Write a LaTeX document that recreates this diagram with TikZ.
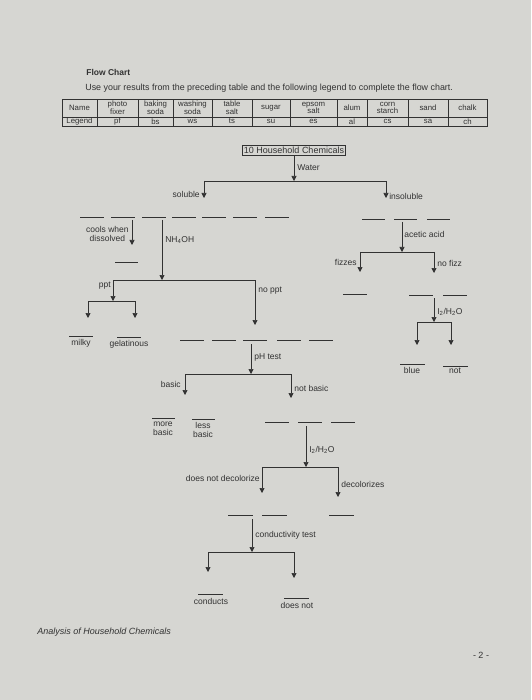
\documentclass[tikz,border=0pt]{standalone}
\usepackage{fontspec}
\setmainfont{Liberation Sans}
\usetikzlibrary{arrows.meta}
\definecolor{paper}{RGB}{214,214,210}
\definecolor{ink}{RGB}{50,50,50}

\begin{document}
\begin{tikzpicture}[x=1pt, y=-1pt, draw=ink, line width=0.7pt, every node/.style={text=ink, inner sep=1pt}]
    \tikzstyle{flow}=[-{Triangle[width=5pt,length=5pt]}]
    \tikzstyle{lbl}=[font=\fontsize{8.5}{9}\selectfont, align=center]
    \tikzstyle{cell}=[font=\fontsize{7.8}{7.8}\selectfont, align=center, inner sep=0pt]
    \tikzstyle{box}=[draw, line width=0.6pt, font=\fontsize{9}{10}\selectfont, inner sep=1.5pt]

    % Page
    \fill[paper] (0,0) rectangle (531,700);
    \useasboundingbox (0,0) rectangle (531,700);

    % Heading
    \node[anchor=west, font=\bfseries\fontsize{8.5}{10}\selectfont] (title) at (85,72) {Flow Chart};
    \node[anchor=west, font=\fontsize{8.9}{10}\selectfont] (intro) at (84,88) {Use your results from the preceding table and the following legend to complete the flow chart.};

    % Legend table
    \foreach \l/\r/\nm/\lg [count=\i] in {62/97/Name/Legend, 97/138/photo\\fixer/pf, 138/173/baking\\soda/bs, 173/212/washing\\soda/ws, 212/252/table\\salt/ts, 252/290/sugar/su, 290/337/epsom\\salt/es, 337/367/alum/al, 367/408/corn\\starch/cs, 408/448/sand/sa, 448/487/chalk/ch}
    {
        \draw[line width=0.6pt] (\l,99) rectangle (\r,117);
        \draw[line width=0.6pt] (\l,117) rectangle (\r,126);
        \node[cell] (name-\i) at ({(\l+\r)/2},108) {\nm};
        \node[cell] (leg-\i) at ({(\l+\r)/2},121.5) {\lg};
    }

    % Water
    \node[box] (chem) at (294,150) {10 Household Chemicals};
    \coordinate (water-j) at (294,181);
    \coordinate (sol-t) at (204,181);
    \coordinate (ins-t) at (386,181);
    \coordinate (sol-b) at (204,198);
    \coordinate (ins-b) at (386,198);
    \draw[flow] (chem) -- (water-j);
    \draw (sol-t) -- (ins-t);
    \draw[flow] (sol-t) -- (sol-b);
    \draw[flow] (ins-t) -- (ins-b);
    \node[lbl, anchor=west] (water) at (296,168) {Water};
    \node[lbl, anchor=east] (sol) at (201,194) {soluble};
    \node[lbl, anchor=west] (ins) at (388,196) {insoluble};

    % Blanks for soluble and insoluble
    \foreach \x in {80,111,142,172,202,233,265}
        \draw (\x,217) -- ++(24,0);
    \foreach \x in {362,394,427}
        \draw (\x,219) -- ++(23,0);

    % Cools when dissolved
    \coordinate (cool-t) at (132,220);
    \coordinate (cool-b) at (132,245);
    \draw[flow] (cool-t) -- (cool-b);
    \node[lbl, anchor=east] (cool) at (130,234) {cools when\\dissolved};
    \draw (115,262) -- ++(23,0);

    % NH4OH
    \coordinate (nh-t) at (162,220);
    \coordinate (nh-j) at (162,280);
    \coordinate (ppt-t) at (113,280);
    \coordinate (noppt-t) at (255,280);
    \coordinate (ppt-j) at (113,301);
    \coordinate (noppt-b) at (255,325);
    \draw[flow] (nh-t) -- (nh-j);
    \draw (ppt-t) -- (noppt-t);
    \draw[flow] (ppt-t) -- (ppt-j);
    \draw[flow] (noppt-t) -- (noppt-b);
    \node[lbl, anchor=west] (nh) at (164,240) {NH\textsubscript{4}OH};
    \node[lbl, anchor=east] (ppt) at (112,286) {ppt};
    \node[lbl, anchor=west] (noppt) at (257,291) {no ppt};

    % Milky or gelatinous
    \coordinate (milky-t) at (88,301);
    \coordinate (gel-t) at (135,301);
    \coordinate (milky-b) at (88,318);
    \coordinate (gel-b) at (135,318);
    \draw (milky-t) -- (gel-t);
    \draw[flow] (milky-t) -- (milky-b);
    \draw[flow] (gel-t) -- (gel-b);
    \draw (69,336) -- ++(24,0);
    \draw (117,337) -- ++(24,0);
    \node[lbl] (milky) at (81,343) {milky};
    \node[lbl] (gel) at (129,344) {gelatinous};

    % Blanks for no ppt
    \foreach \x in {180,212,243,277,309}
        \draw (\x,340) -- ++(24,0);

    % pH test
    \coordinate (ph-t) at (251,344);
    \coordinate (ph-j) at (251,374);
    \coordinate (basic-t) at (185,374);
    \coordinate (nbasic-t) at (291,374);
    \coordinate (basic-b) at (185,395);
    \coordinate (nbasic-b) at (291,398);
    \draw[flow] (ph-t) -- (ph-j);
    \draw (basic-t) -- (nbasic-t);
    \draw[flow] (basic-t) -- (basic-b);
    \draw[flow] (nbasic-t) -- (nbasic-b);
    \node[lbl, anchor=west] (ph) at (253,357) {pH test};
    \node[lbl, anchor=east] (basic) at (182,384) {basic};
    \node[lbl, anchor=west] (nbasic) at (293,388) {not basic};

    % More or less basic
    \draw (152,418) -- ++(23,0);
    \draw (192,419) -- ++(23,0);
    \node[lbl] (more) at (163,429) {more\\basic};
    \node[lbl] (less) at (203,430) {less\\basic};

    % Blanks for not basic
    \foreach \x in {265,298,331}
        \draw (\x,422) -- ++(24,0);

    % I2/H2O on soluble
    \coordinate (io-t) at (306,426);
    \coordinate (io-j) at (306,467);
    \coordinate (ndec-t) at (262,467);
    \coordinate (dec-t) at (338,467);
    \coordinate (ndec-b) at (262,493);
    \coordinate (dec-b) at (338,497);
    \draw[flow] (io-t) -- (io-j);
    \draw (ndec-t) -- (dec-t);
    \draw[flow] (ndec-t) -- (ndec-b);
    \draw[flow] (dec-t) -- (dec-b);
    \node[lbl, anchor=west] (io) at (308,450) {I\textsubscript{2}/H\textsubscript{2}O};
    \node[lbl, anchor=east] (ndec) at (261,478) {does not decolorize};
    \node[lbl, anchor=west] (dec) at (340,484) {decolorizes};

    % Blanks for decolorize
    \foreach \x in {228,262,329}
        \draw (\x,515) -- ++(25,0);

    % Conductivity test
    \coordinate (cond-t) at (252,519);
    \coordinate (cond-j) at (252,552);
    \coordinate (yes-t) at (208,552);
    \coordinate (no-t) at (294,552);
    \coordinate (yes-b) at (208,572);
    \coordinate (no-b) at (294,578);
    \draw[flow] (cond-t) -- (cond-j);
    \draw (yes-t) -- (no-t);
    \draw[flow] (yes-t) -- (yes-b);
    \draw[flow] (no-t) -- (no-b);
    \node[lbl, anchor=west] (cond) at (254,535) {conductivity test};
    \draw (198,594) -- ++(25,0);
    \draw (284,598) -- ++(25,0);
    \node[lbl] (yes) at (211,601) {conducts};
    \node[lbl] (no) at (297,605) {does not};

    % Acetic acid
    \coordinate (ac-t) at (402,222);
    \coordinate (ac-j) at (402,252);
    \coordinate (fiz-t) at (360,252);
    \coordinate (nfiz-t) at (434,252);
    \coordinate (fiz-b) at (360,272);
    \coordinate (nfiz-b) at (434,273);
    \draw[flow] (ac-t) -- (ac-j);
    \draw (fiz-t) -- (nfiz-t);
    \draw[flow] (fiz-t) -- (fiz-b);
    \draw[flow] (nfiz-t) -- (nfiz-b);
    \node[lbl, anchor=west] (ac) at (403,234) {acetic acid};
    \node[lbl, anchor=east] (fiz) at (358,262) {fizzes};
    \node[lbl, anchor=west] (nfiz) at (436,263) {no fizz};
    \draw (343,294) -- ++(24,0);
    \draw (409,295) -- ++(24,0);
    \draw (443,295) -- ++(24,0);

    % I2/H2O on insoluble
    \coordinate (io2-t) at (434,298);
    \coordinate (io2-j) at (434,322);
    \coordinate (blue-t) at (417,322);
    \coordinate (nblue-t) at (451,322);
    \coordinate (blue-b) at (417,345);
    \coordinate (nblue-b) at (451,345);
    \draw[flow] (io2-t) -- (io2-j);
    \draw (blue-t) -- (nblue-t);
    \draw[flow] (blue-t) -- (blue-b);
    \draw[flow] (nblue-t) -- (nblue-b);
    \node[lbl, anchor=west] (io2) at (436,312) {I\textsubscript{2}/H\textsubscript{2}O};
    \draw (400,364) -- ++(25,0);
    \draw (443,366) -- ++(25,0);
    \node[lbl] (blue) at (412,370) {blue};
    \node[lbl] (nblue) at (455,371) {not};

    % Footer
    \node[anchor=west, font=\itshape\fontsize{9}{10}\selectfont] (foot) at (36,632) {Analysis of Household Chemicals};
    \node[font=\fontsize{9}{10}\selectfont] (page) at (481,655) {- 2 -};
\end{tikzpicture}
\end{document}
